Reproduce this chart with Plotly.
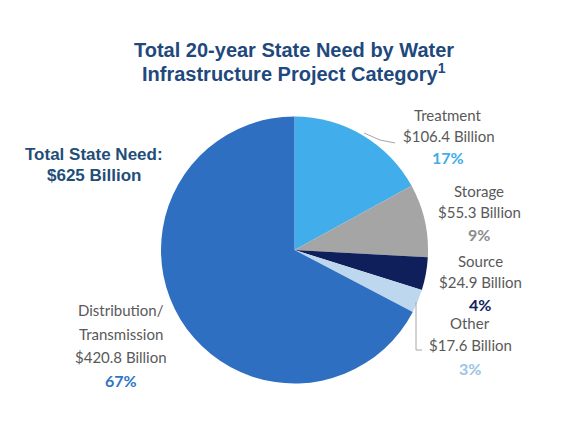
import plotly.graph_objects as go

categories = ["Treatment", "Storage", "Source", "Other", "Distribution/<br>Transmission"]
values = [106.4, 55.3, 24.9, 17.6, 420.8]
percent_labels = ["17%", "9%", "4%", "3%", "67%"]
colors = ["#41ADEA", "#A5A5A5", "#0F1F5C", "#BDD7EE", "#2E6FC1"]
pct_colors = ["#41ADEA", "#8C8C8C", "#0F1F5C", "#9DC3E6", "#2E75C8"]

W, H = 564, 440
OFF = 8  # page body margin
cx, cy, r = 294.5, 250, 133.5

def px(x):
    return (x - OFF) / W

def py(y):
    return 1 - (y - OFF) / H

fig = go.Figure()
fig.add_trace(go.Pie(
    labels=categories,
    values=values,
    sort=False,
    direction="clockwise",
    rotation=0,
    marker=dict(colors=colors, line=dict(width=0)),
    textinfo="none",
    hoverinfo="label+value+percent",
    showlegend=False,
    domain=dict(x=[px(cx - r), px(cx + r)], y=[py(cy + r), py(cy - r)]),
))

label_font = dict(family="Lato", size=15, color="#595959")
pct_font_base = dict(family="Lato", size=16)

annots = []

def add_text(text, x, y, font, xanchor="center"):
    annots.append(dict(text=text, x=px(x), y=py(y), xref="paper", yref="paper",
                       showarrow=False, xanchor=xanchor, yanchor="middle", font=font))

# Title
title_font = dict(family="Liberation Sans", size=20, color="#1F497D")
add_text("<b>Total 20-year State Need by Water</b>", 294, 50, title_font)
add_text("<b>Infrastructure Project Category<sup>1</sup></b>", 294, 73, title_font)

# Total
tot_font = dict(family="Liberation Sans", size=17, color="#1F4E79")
add_text("<b>Total State Need:</b>", 94, 154, tot_font)
add_text("<b>$625 Billion</b>", 94, 175, tot_font)

def money(v):
    return f"${v:.1f} Billion"

# Treatment
add_text(categories[0], 448, 115, label_font)
add_text(money(values[0]), 449, 136, label_font)
add_text(f"<b>{percent_labels[0]}</b>", 448, 158, dict(pct_font_base, color=pct_colors[0]))
# Storage
add_text(categories[1], 479, 191, label_font)
add_text(money(values[1]), 479, 212, label_font)
add_text(f"<b>{percent_labels[1]}</b>", 479, 235, dict(pct_font_base, color=pct_colors[1]))
# Source
add_text(categories[2], 480, 261, label_font)
add_text(money(values[2]), 480, 282, label_font)
add_text(f"<b>{percent_labels[2]}</b>", 480, 304, dict(pct_font_base, color=pct_colors[2]))
# Other
add_text(categories[3], 470, 323, label_font)
add_text(money(values[3]), 470, 345, label_font)
add_text(f"<b>{percent_labels[3]}</b>", 470, 368, dict(pct_font_base, color=pct_colors[3]))
# Distribution
add_text("Distribution/", 121, 310, label_font)
add_text("Transmission", 121, 334, label_font)
add_text(money(values[4]), 121, 357, label_font)
add_text(f"<b>{percent_labels[4]}</b>", 121, 380, dict(pct_font_base, color=pct_colors[4]))

line_style = dict(color="#A6A6A6", width=1)
shapes = [
    dict(type="path", xref="paper", yref="paper",
         path=f"M {px(364)} {py(133)} L {px(380)} {py(140)} L {px(395)} {py(143)}",
         line=line_style),
    dict(type="path", xref="paper", yref="paper",
         path=f"M {px(416)} {py(302)} L {px(416)} {py(350)} L {px(422)} {py(350)}",
         line=line_style),
]

fig.update_layout(
    width=W, height=H,
    margin=dict(l=0, r=0, t=0, b=0),
    paper_bgcolor="white",
    plot_bgcolor="white",
    annotations=annots,
    shapes=shapes,
)

fig.write_html("out.html")
